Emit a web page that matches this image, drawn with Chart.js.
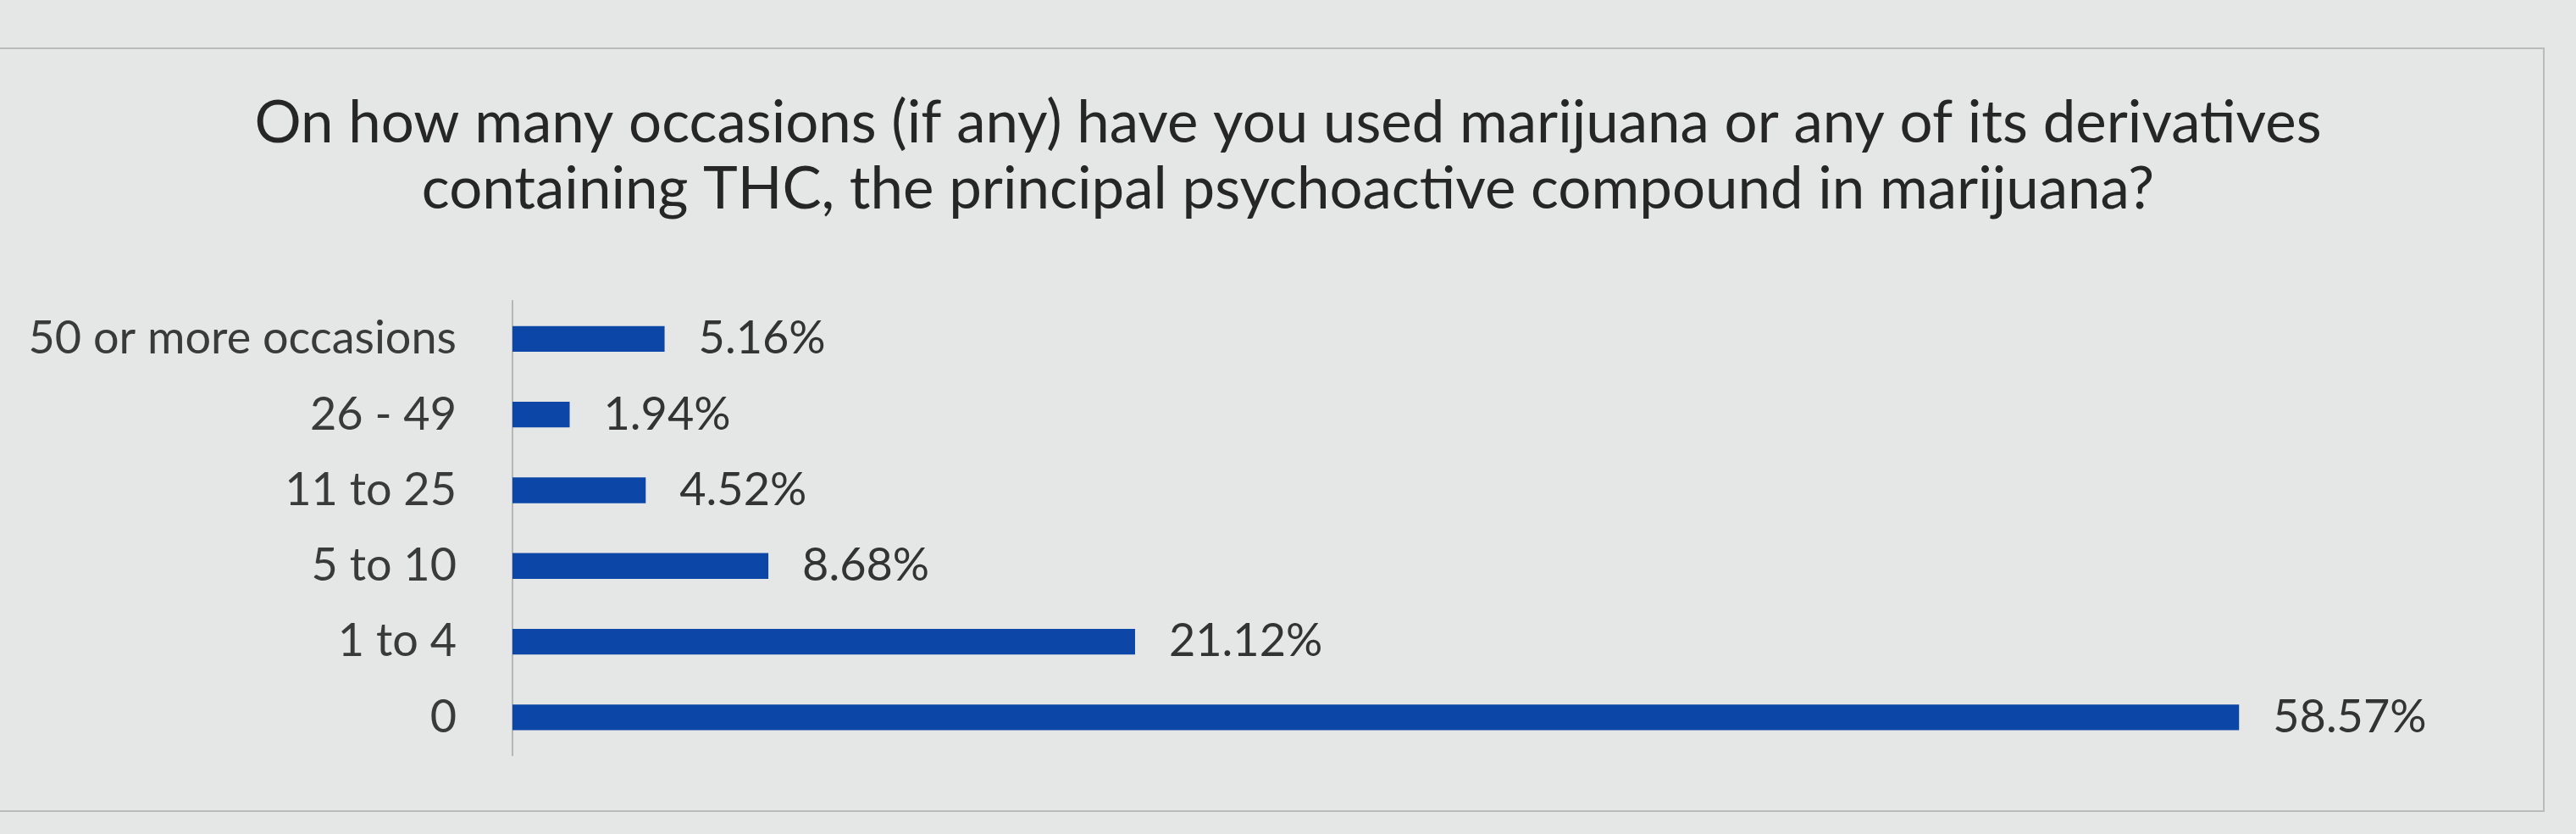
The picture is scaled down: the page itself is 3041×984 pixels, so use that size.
<!DOCTYPE html>
<html lang="en">
<head>
  <meta charset="UTF-8" />
  <title>Marijuana use occasions</title>
  <script src="https://cdn.jsdelivr.net/npm/chart.js"></script>
  <style>
    html, body {
      margin: 0;
      padding: 0;
      background-color: #e5e7e6;
    }
    .frame {
      position: absolute;
      left: -4px;
      top: 56px;
      width: 3004px;
      height: 898px;
      border: 2px solid #b9bcbb;
      pointer-events: none;
    }
    .chart-container {
      position: relative;
      width: 3041px;
      height: 984px;
    }
  </style>
</head>
<body>
  <div class="chart-container"><canvas id="usageChart"></canvas></div>
  <div class="frame"></div>

  <script>
    const titleLines = [
      'On how many occasions (if any) have you used marijuana or any of its derivatives',
      'containing THC, the principal psychoactive compound in marijuana?'
    ];
    const categories = ['50 or more occasions', '26 - 49', '11 to 25', '5 to 10', '1 to 4', '0'];
    const percentages = [5.16, 1.94, 4.52, 8.68, 21.12, 58.57];

    const fontFamily = 'Lato, "Open Sans", sans-serif';

    // value labels to the right of each bar
    const valueLabels = {
      id: 'valueLabels',
      afterDatasetsDraw(chart) {
        const ctx = chart.ctx;
        const meta = chart.getDatasetMeta(0);
        ctx.save();
        ctx.font = '54px ' + fontFamily;
        ctx.fillStyle = '#333333';
        ctx.textAlign = 'left';
        ctx.textBaseline = 'middle';
        meta.data.forEach((bar, i) => {
          ctx.fillText(percentages[i].toFixed(2) + '%', bar.x + 40, bar.y);
        });
        ctx.restore();
      }
    };

    const ctx = document.getElementById('usageChart').getContext('2d');
    new Chart(ctx, {
      type: 'bar',
      data: {
        labels: categories,
        datasets: [{
          data: percentages,
          backgroundColor: '#0c47a7',
          borderWidth: 0,
          categoryPercentage: 1,
          barPercentage: 0.34
        }]
      },
      options: {
        indexAxis: 'y',
        responsive: true,
        maintainAspectRatio: false,
        animation: false,
        layout: { padding: { top: 107, bottom: 93, left: 0, right: 0 } },
        plugins: {
          legend: { display: false },
          tooltip: { enabled: false },
          title: {
            display: true,
            text: titleLines,
            color: '#262626',
            font: { family: fontFamily, size: 69, weight: 'normal', lineHeight: 1.125 },
            padding: { top: 0, bottom: 93 }
          }
        },
        scales: {
          x: {
            display: false,
            min: 0,
            max: 70
          },
          y: {
            grid: { display: false },
            border: { display: true, color: '#b5b8b7', width: 2 },
            ticks: {
              color: '#3a3a3a',
              padding: 58,
              font: { family: fontFamily, size: 54 }
            },
            afterFit(scale) { scale.width = 605; }
          }
        }
      },
      plugins: [valueLabels]
    });
  </script>
</body>
</html>
